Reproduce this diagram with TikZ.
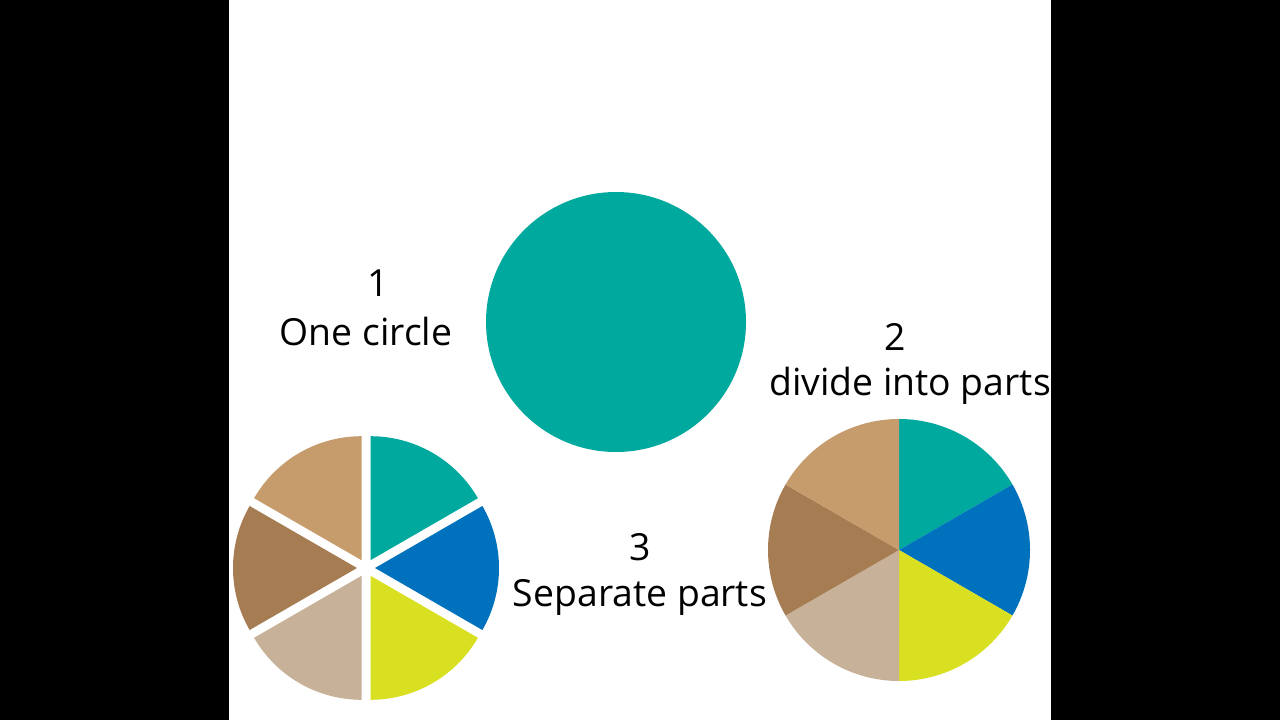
\documentclass[tikz,border=0pt]{standalone}
\usepackage{fontspec}
\setmainfont{Open Sans}
\definecolor{cteal}{HTML}{00A99D}
\definecolor{cblue}{HTML}{0071BC}
\definecolor{cyel}{HTML}{D9E021}
\definecolor{clbei}{HTML}{C7B299}
\definecolor{cbrown}{HTML}{A67C52}
\definecolor{ctan}{HTML}{C69C6D}
\begin{document}
\begin{tikzpicture}[x=0.75pt,y=-0.75pt,lbl/.style={font=\fontsize{28}{33}\selectfont,inner sep=0pt}]
\useasboundingbox (0,0) rectangle (1280,720);
\fill[black] (0,0) rectangle (1280,720);
\fill[white] (229,0) rectangle (1051,720);
\fill[cteal] (616,322) circle[radius=130];
\node[lbl] (n1) at (378,283) {1};
\node[lbl] (t1) at (366,331) {One circle};
\node[lbl] (n2) at (895,337) {2};
\node[lbl] (t2) at (910,386) {divide into parts};
\node[lbl] (n3) at (640,547) {3};
\node[lbl] (t3) at (640,597) {Separate parts};
% pie 2
\foreach \a/\c in {90/cteal,30/cblue,-30/cyel,-90/clbei,-150/cbrown,150/ctan}{
  \fill[\c] (899,550) -- ++(-\a:131) arc[start angle=-\a,end angle=-\a+60,radius=131] -- cycle;
}
% pie 3 exploded
\foreach \a/\c in {90/cteal,30/cblue,-30/cyel,-90/clbei,-150/cbrown,150/ctan}{
  \fill[\c] (366,568) ++(-\a+30:9) coordinate (o) -- ++(-\a:124) arc[start angle=-\a,end angle=-\a+60,radius=124] -- cycle;
}
\end{tikzpicture}
\end{document}
